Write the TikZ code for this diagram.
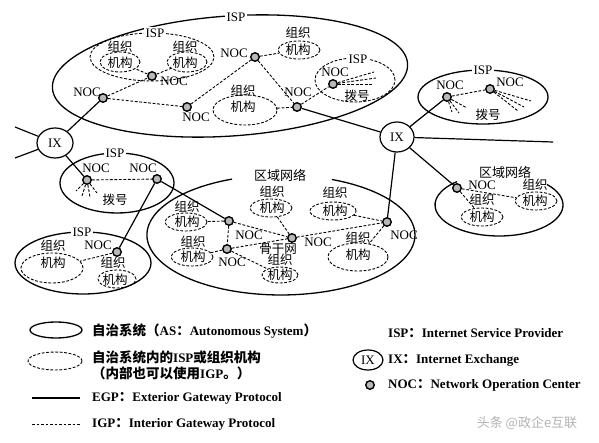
\documentclass[tikz,border=0pt]{standalone}
\usepackage{fontspec}
\setmainfont{Liberation Serif}
\newfontfamily\cjk{Noto Sans CJK SC}
\newcommand\lcjk{\cjk\fontsize{13.5}{16}\selectfont}
\usetikzlibrary{shapes.geometric}
\begin{document}
\begin{tikzpicture}[x=1pt,y=-1pt,
 asell/.style={ellipse, draw, line width=1.3pt, inner sep=0},
 ispell/.style={ellipse, draw, line width=0.9pt, dash pattern=on 2.8pt off 1.7pt, inner sep=0},
 orgell/.style={ellipse, draw, line width=0.9pt, dash pattern=on 2.8pt off 1.7pt, inner sep=0},
 nocdot/.style={circle, draw, line width=1.4pt, fill=gray!55, minimum size=8.5pt, inner sep=0},
 egp/.style={line width=1.2pt},
 igp/.style={line width=0.9pt, dash pattern=on 2.8pt off 1.7pt},
 txt/.style={font=\fontsize{13}{13}\selectfont, inner sep=0.5pt},
 ctxt/.style={font=\cjk\fontsize{12.5}{12.5}\selectfont, inner sep=0.5pt},
 ixell/.style={ellipse, draw, line width=1.2pt, inner sep=0, fill=white, font=\fontsize{13}{13}\selectfont},
 boxlbl/.style={txt, fill=white, inner sep=1.5pt},
 legtxt/.style={font=\bfseries\fontsize{13}{16}\selectfont, anchor=west, inner sep=0, align=left},
]
\useasboundingbox (0,0) rectangle (599,443);

% ---------- autonomous systems ----------
\node[asell, minimum width=356pt, minimum height=120pt, rotate=4] (asTop) at (230,76) {};
\node[asell, minimum width=130pt, minimum height=54pt] (asTR) at (483,97) {};
\node[asell, minimum width=114pt, minimum height=60pt] (asML) at (117,183) {};
\node[asell, minimum width=136pt, minimum height=62pt] (asLL) at (83,263) {};
\draw[egp, line width=1.3pt] (332,179.5) arc[start angle=-67.6, end angle=248.6, x radius=134, y radius=60];
\draw[egp, line width=1.3pt] (547,184.5) arc[start angle=-41.4, end angle=229, x radius=64, y radius=31];

\node[boxlbl] (lTop) at (236,17) {ISP};
\node[boxlbl] (lTR) at (483,70) {ISP};
\node[boxlbl] (lML) at (115,153) {ISP};
\node[boxlbl] (lLL) at (82,232) {ISP};
\node[ctxt, font=\cjk\fontsize{13}{13}\selectfont] (lReg) at (280,175) {区域网络};
\node[ctxt, font=\cjk\fontsize{13}{13}\selectfont] (lReg2) at (505,172) {区域网络};

% ---------- inner ISPs ----------
\node[ispell, minimum width=124pt, minimum height=48pt] (ispA) at (152,57) {};
\node[boxlbl] (lA) at (155,33) {ISP};
\node[ispell, minimum width=80pt, minimum height=44pt] (ispB) at (355,80) {};
\node[boxlbl] (lB) at (358,59) {ISP};

% ---------- organisations ----------
\node[orgell, minimum width=40pt, minimum height=20pt] (o1) at (120,62) {};
\node[orgell, minimum width=40pt, minimum height=20pt] (o2) at (187,62) {};
\node[orgell, minimum width=42pt, minimum height=18pt] (o3) at (299,50) {};
\node[orgell, minimum width=64pt, minimum height=30pt] (o4) at (245,110) {};
\node[orgell, minimum width=62pt, minimum height=30pt] (o5) at (52,268) {};
\node[orgell, minimum width=38pt, minimum height=18pt] (o6) at (117,279) {};
\node[orgell, minimum width=42pt, minimum height=18pt] (oa) at (186,222) {};
\node[orgell, minimum width=42pt, minimum height=18pt] (ob) at (192,257) {};
\node[orgell, minimum width=42pt, minimum height=18pt] (oc) at (271,208) {};
\node[orgell, minimum width=36pt, minimum height=16pt] (od) at (280,275) {};
\node[orgell, minimum width=46pt, minimum height=18pt] (oe) at (333,211) {};
\node[orgell, minimum width=60pt, minimum height=28pt] (of) at (358,257) {};
\node[orgell, minimum width=42pt, minimum height=18pt] (og) at (482,217) {};
\node[orgell, minimum width=42pt, minimum height=18pt] (oh) at (536,201) {};

\foreach \n/\x/\y in {t1/120/47, t2/185/47, t3/298/33, t4/243/91, t5/53/246, t6/113/263,
  ta/187/207, tb/193/242, tc/272/192, td/280/260, te/335/193, tf/358/238, tg/482/200, th/535/185}
  \node[ctxt] (\n) at (\x,\y) {组织};
\foreach \n/\x/\y in {u1/120/63, u2/185/63, u3/298/50, u4/243/107, u5/53/263, u6/115/280,
  ua/187/222, ub/193/257, uc/272/208, ud/280/275, ue/335/211, uf/358/255, ug/482/217, uh/535/201}
  \node[ctxt] (\n) at (\x,\y) {机构};

\node[ctxt] (d1) at (357,96) {拨号};
\node[ctxt] (d2) at (488,115) {拨号};
\node[ctxt] (d3) at (115,200) {拨号};
\node[ctxt] (bb) at (278,249) {骨干网};

% ---------- NOCs ----------
\node[nocdot] (n1) at (152,76) {};
\node[nocdot] (n2) at (103,98) {};
\node[nocdot] (n3) at (187,107) {};
\node[nocdot] (n4) at (255,57) {};
\node[nocdot] (n5) at (297,107) {};
\node[nocdot] (n6) at (333,84) {};
\node[nocdot] (n7) at (447,97) {};
\node[nocdot] (n8) at (490,89) {};
\node[nocdot] (n9) at (87,180) {};
\node[nocdot] (n10) at (157,179) {};
\node[nocdot] (n11) at (117,252) {};
\node[nocdot] (n12) at (229,221) {};
\node[nocdot] (n13) at (227,249) {};
\node[nocdot] (n14) at (292,238) {};
\node[nocdot] (n15) at (387,222) {};
\node[nocdot] (n16) at (457,188) {};

\foreach \n/\x/\y in {m1/174/81, m2/87/92, m3/196/117, m4/234/53, m5/298/92, m6/335/72,
  m7/450/85, m8/510/82, m9/96/168, m10/143/168, m11/98/245, m12/249/235, m13/232/262,
  m14/318/242, m15/404/235, m16/482/185}
  \node[txt] (\n) at (\x,\y) {NOC};

% ---------- IX ----------
\node[ixell, minimum width=36pt, minimum height=30pt] (ix1) at (55,143) {IX};
\node[ixell, minimum width=34pt, minimum height=30pt] (ix2) at (397,137) {IX};
\coordinate (e1) at (15,127);
\coordinate (e2) at (15,158);
\coordinate (e3) at (553,142);

% ---------- EGP ----------
\draw[egp] (ix1) -- (e1);
\draw[egp] (ix1) -- (e2);
\draw[egp] (ix1) -- (n2);
\draw[egp] (ix1) -- (n9);
\draw[egp] (n5) -- (ix2);
\draw[egp] (ix2) -- (e3);
\draw[egp] (ix2) -- (n7);
\draw[egp] (ix2) -- (n16);
\draw[egp] (ix2) -- (n15);
\draw[egp] (n10) -- (n12);
\draw[egp] (n10) -- (n11);

% ---------- IGP ----------
\draw[igp] (n2) -- (n1);
\draw[igp] (n1) -- (o1);
\draw[igp] (n1) -- (o2);
\draw[igp] (n2) -- (n3);
\draw[igp] (n3) -- (n4);
\draw[igp] (n4) -- (o3);
\draw[igp] (n4) -- (n5);
\draw[igp] (o4) -- (n5);
\draw[igp] (n5) -- (n6);
\draw[igp] (n7) -- (n8);
\draw[igp] (n9) -- (n10);
\draw[igp] (n11) -- (o5);
\draw[igp] (n12) -- (oa);
\draw[igp] (n12) -- (n13);
\draw[igp] (n12) -- (n14);
\draw[igp] (n13) -- (ob);
\draw[igp] (n13) -- (n14);
\draw[igp] (n13) -- (od);
\draw[igp] (oc) -- (n14);
\draw[igp] (n14) -- (n15);
\draw[igp] (oe) -- (n15);
\draw[igp] (n15) -- (of);
\draw[igp] (n16) -- (oh);
\draw[igp] (n16) -- (og);

% dial-up rays
\foreach \c/\x/\y in {r1/374/72, r2/376/78, r3/372/84} {\coordinate (\c) at (\x,\y); \draw[igp] (n6) -- (\c);}
\foreach \c/\x/\y in {r4/452/112, r5/459/113, r6/467/108} {\coordinate (\c) at (\x,\y); \draw[igp] (n7) -- (\c);}
\foreach \c/\x/\y in {r7/531/101, r8/524/107, r9/518/111} {\coordinate (\c) at (\x,\y); \draw[igp] (n8) -- (\c);}
\foreach \c/\x/\y in {r10/76/191, r11/82/196, r12/90/197, r13/97/193} {\coordinate (\c) at (\x,\y); \draw[igp] (n9) -- (\c);}

% ---------- legend ----------
\node[asell, minimum width=52pt, minimum height=16pt] (kAS) at (56,330) {};
\node[legtxt] (tAS) at (92,331) {{\lcjk 自治系统（}AS{\lcjk ：}Autonomous System{\lcjk ）}};
\node[orgell, minimum width=54pt, minimum height=18pt] (kISP) at (55,361) {};
\node[legtxt] (tISP) at (92,365) {{\lcjk 自治系统内的}ISP{\lcjk 或组织机构}\\{\lcjk （内部也可以使用}IGP{\lcjk 。）}};
\coordinate (k1a) at (32,398); \coordinate (k1b) at (80,398);
\draw[egp] (k1a) -- (k1b);
\node[legtxt] (tEGP) at (92,398) {EGP{\lcjk ：}Exterior Gateway Protocol};
\coordinate (k2a) at (32,424); \coordinate (k2b) at (80,424);
\draw[igp] (k2a) -- (k2b);
\node[legtxt] (tIGP) at (92,424) {IGP{\lcjk ：}Interior Gateway Protocol};

\node[legtxt] (tISPd) at (388,333) {ISP{\lcjk ：}Internet Service Provider};
\node[ixell, minimum width=30pt, minimum height=20pt] (kIX) at (368,360) {IX};
\node[legtxt] (tIX) at (388,360) {IX{\lcjk ：}Internet Exchange};
\node[nocdot] (kNOC) at (370,385) {};
\node[legtxt] (tNOC) at (388,385) {NOC{\lcjk ：}Network Operation Center};

\node[font=\cjk\fontsize{13}{13}\selectfont, text=gray!60] (wm) at (527,423) {头条 @政企e互联};
\end{tikzpicture}
\end{document}
